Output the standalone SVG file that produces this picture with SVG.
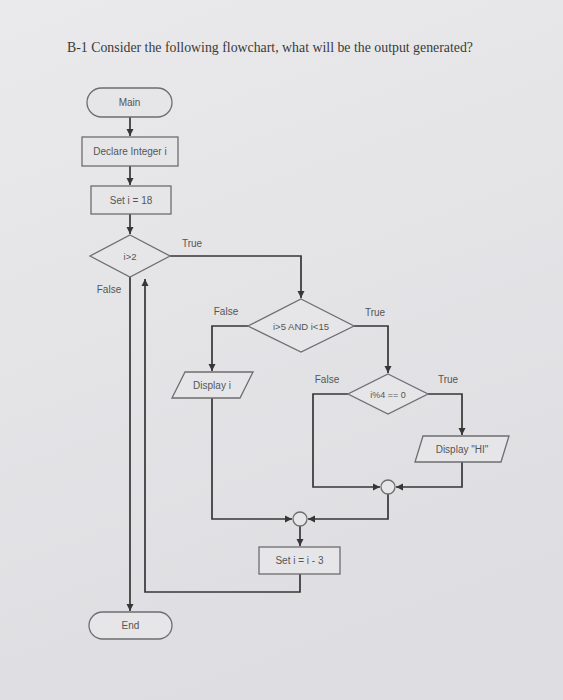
<svg xmlns="http://www.w3.org/2000/svg" width="563" height="700" viewBox="0 0 563 700">
<style>
.shape{fill:#e6e6e8;stroke:#6e6e70;stroke-width:1.3}
.t{font-family:"Liberation Sans",Arial,sans-serif;font-size:10px;fill:#555;text-anchor:middle}
.lbl{font-family:"Liberation Sans",Arial,sans-serif;font-size:10px;fill:#555;text-anchor:middle}
.c{fill:none;stroke:#363636;stroke-width:1.7}
.title{font-family:"Liberation Serif","Times New Roman",serif;font-size:15px;fill:#3a3a3a}
</style>
<defs>
<linearGradient id="bg" x1="0" y1="0" x2="0.3" y2="1">
<stop offset="0" stop-color="#eaeaec"/>
<stop offset="1" stop-color="#dedee2"/>
</linearGradient>
<marker id="ah" viewBox="0 0 8 8" refX="8" refY="4" markerWidth="4.2" markerHeight="4.2" orient="auto" markerUnits="strokeWidth">
<path d="M0,0 L8,4 L0,8 z" fill="#363636"/>
</marker>
</defs>
<rect x="0" y="0" width="563" height="700" fill="url(#bg)"/>
<text class="title" x="67" y="52" textLength="406" lengthAdjust="spacingAndGlyphs">B-1 Consider the following flowchart, what will be the output generated?</text>

<g id="connectors">
<path class="c" d="M130,117 V136" marker-end="url(#ah)"/>
<path class="c" d="M130,166 V185" marker-end="url(#ah)"/>
<path class="c" d="M130,214 V234" marker-end="url(#ah)"/>
<path class="c" d="M170,256 H301 V298" marker-end="url(#ah)"/>
<path class="c" d="M130,277 V611" marker-end="url(#ah)"/>
<path class="c" d="M248,326 H212 V371" marker-end="url(#ah)"/>
<path class="c" d="M354,326 H388 V373" marker-end="url(#ah)"/>
<path class="c" d="M428,394 H462 V435" marker-end="url(#ah)"/>
<path class="c" d="M348,394 H313 V487 H380" marker-end="url(#ah)"/>
<path class="c" d="M462,462 V487 H396" marker-end="url(#ah)"/>
<path class="c" d="M388,494 V519 H308" marker-end="url(#ah)"/>
<path class="c" d="M212,398 V519 H292" marker-end="url(#ah)"/>
<path class="c" d="M300,526 V546" marker-end="url(#ah)"/>
<path class="c" d="M300,574 V592 H145 V279" marker-end="url(#ah)"/>
<text class="lbl" x="192" y="247">True</text>
<text class="lbl" x="109" y="293">False</text>
<text class="lbl" x="226" y="315">False</text>
<text class="lbl" x="375" y="316">True</text>
<text class="lbl" x="327" y="383">False</text>
<text class="lbl" x="448" y="383">True</text>
</g>

<g id="main"><rect class="shape" x="87" y="88" width="85" height="29" rx="14.5"/><text class="t" x="129.5" y="105.5">Main</text></g>
<g id="declare"><rect class="shape" x="82" y="137" width="96" height="29"/><text class="t" x="130" y="155">Declare Integer i</text></g>
<g id="set18"><rect class="shape" x="91" y="186" width="80" height="28"/><text class="t" x="131" y="203.5">Set i = 18</text></g>
<g id="dec1"><polygon class="shape" points="130,235 170,256 130,277 90,256"/><text class="t" x="130" y="259.5" style="font-size:9.5px">i&gt;2</text></g>
<g id="dec2"><polygon class="shape" points="301,299 354,326 301,352 248,326"/><text class="t" x="301" y="329.5" style="font-size:9.5px">i&gt;5 AND i&lt;15</text></g>
<g id="dispi"><polygon class="shape" points="185,372 253,372 240,398 172,398"/><text class="t" x="212" y="388.5">Display i</text></g>
<g id="dec3"><polygon class="shape" points="388,374 428,394 388,414 348,394"/><text class="t" x="388" y="397.5" style="font-size:9px">i%4 == 0</text></g>
<g id="disphi"><polygon class="shape" points="423,436 509,436 501,462 415,462"/><text class="t" x="462" y="452.5">Display "HI"</text></g>
<g id="join2"><circle class="shape" cx="388" cy="487" r="7"/></g>
<g id="join1"><circle class="shape" cx="300" cy="519" r="7"/></g>
<g id="dec"><rect class="shape" x="259" y="547" width="81" height="27"/><text class="t" x="299.5" y="564">Set i = i - 3</text></g>
<g id="end"><rect class="shape" x="89" y="612" width="83" height="27" rx="13.5"/><text class="t" x="130.5" y="629">End</text></g>
</svg>
